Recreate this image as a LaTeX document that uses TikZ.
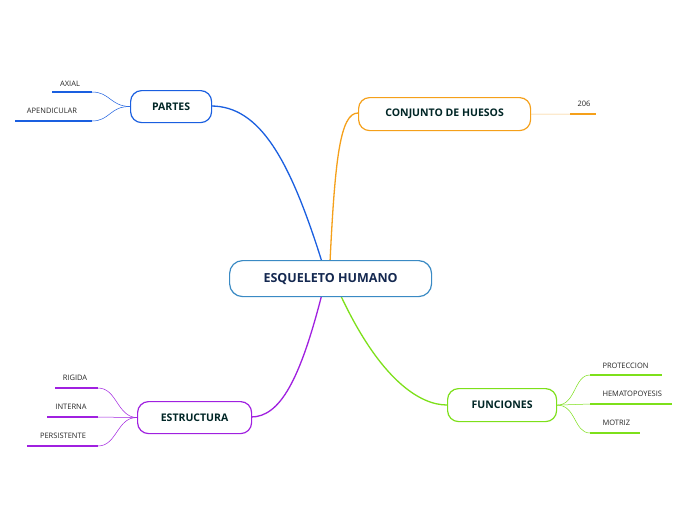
\documentclass[tikz,border=0pt]{standalone}
\usepackage{fontspec}
\setmainfont{Open Sans}
\begin{document}
\begin{tikzpicture}[x=1pt,y=-1pt,
  box/.style={draw,line width=1.2pt,rounded corners=11pt,fill=white,font=\bfseries\fontsize{10.5}{12}\selectfont,text=black!70!teal,anchor=north west,inner sep=0pt},
  leaf/.style={font=\fontsize{7.5}{8}\selectfont,text=black!85},
  br/.style={line width=1.3pt},
  tw/.style={line width=0.5pt},
  ul/.style={line width=1.5pt}]
\definecolor{cb}{HTML}{1A5FE0}\definecolor{co}{HTML}{F5A01A}
\definecolor{cg}{HTML}{7DE01A}\definecolor{cp}{HTML}{A020E0}
\useasboundingbox (0,0) rectangle (696,520);
\fill[white] (0,0) rectangle (696,520);
% branches
\coordinate (ct) at (322,262); \coordinate (co1) at (330,262);
\coordinate (cb1) at (340,294); \coordinate (cb2) at (322,294);
\draw[br,cb] (ct) .. controls (290,160) and (260,106) .. (211,106);
\draw[br,co] (co1) .. controls (335,160) and (340,113) .. (358,113);
\draw[br,cg] (cb1) .. controls (380,380) and (420,405) .. (447,405);
\draw[br,cp] (cb2) .. controls (300,380) and (280,417) .. (251,417);
\node[box,draw=cb,minimum width=81pt,minimum height=32pt] (partes) at (130,90) {PARTES};
\node[box,draw=co,minimum width=172pt,minimum height=33pt] (conj) at (358,97) {CONJUNTO DE HUESOS};
\node[box,draw=cg,minimum width=109pt,minimum height=33pt] (func) at (447,388) {FUNCIONES};
\node[box,draw=cp,minimum width=114pt,minimum height=32pt] (estr) at (137,401) {ESTRUCTURA};
\node[box,draw={rgb,255:red,58;green,138;blue,196},minimum width=202pt,minimum height=36pt,rounded corners=13pt,text={rgb,255:red,20;green,40;blue,80},font=\bfseries\fontsize{12.5}{14}\selectfont] (central) at (229,260) {ESQUELETO HUMANO};
% PARTES leaves
\coordinate (a1) at (52,92); \coordinate (a2) at (92,92);
\coordinate (p1) at (15,121); \coordinate (p2) at (92,121);
\draw[ul,cb] (a1)--(a2); \draw[ul,cb] (p1)--(p2);
\node[leaf] (axial) at (70,84) {AXIAL};
\node[leaf] (apen) at (52,111) {APENDICULAR};
\draw[tw,cb] (partes.west) .. controls (110,106) and (110,92) .. (a2);
\draw[tw,cb] (partes.west) .. controls (110,106) and (110,121) .. (p2);
% 206
\coordinate (n1) at (570,114); \coordinate (n2) at (596,114);
\draw[ul,co] (n1)--(n2);
\node[leaf] (n206) at (584,104) {206};
\draw[tw,co!60] (conj.east) -- (n1);
% FUNCIONES leaves
\coordinate (f1) at (590,375); \coordinate (f1e) at (662,375);
\coordinate (f2) at (590,404); \coordinate (f2e) at (672,404);
\coordinate (f3) at (590,433); \coordinate (f3e) at (640,433);
\draw[ul,cg] (f1)--(f1e); \draw[ul,cg] (f2)--(f2e); \draw[ul,cg] (f3)--(f3e);
\node[leaf,anchor=west] (prot) at (599,366) {PROTECCION};
\node[leaf,anchor=west] (hema) at (599,394) {HEMATOPOYESIS};
\node[leaf,anchor=west] (motr) at (599,423) {MOTRIZ};
\draw[tw,cg] (func.east) .. controls (576,405) and (574,375) .. (f1);
\draw[tw,cg] (func.east) -- (f2);
\draw[tw,cg] (func.east) .. controls (576,405) and (574,433) .. (f3);
% ESTRUCTURA leaves
\coordinate (r1) at (55,388); \coordinate (r2) at (98,388);
\coordinate (i1) at (47,417); \coordinate (i2) at (98,417);
\coordinate (s1) at (27,446); \coordinate (s2) at (98,446);
\draw[ul,cp] (r1)--(r2); \draw[ul,cp] (i1)--(i2); \draw[ul,cp] (s1)--(s2);
\node[leaf] (rig) at (75,378) {RIGIDA};
\node[leaf] (int) at (71,407) {INTERNA};
\node[leaf] (pers) at (63,436) {PERSISTENTE};
\draw[tw,cp] (estr.west) .. controls (117,417) and (117,388) .. (r2);
\draw[tw,cp] (estr.west) -- (i2);
\draw[tw,cp] (estr.west) .. controls (117,417) and (117,446) .. (s2);
\end{tikzpicture}
\end{document}
